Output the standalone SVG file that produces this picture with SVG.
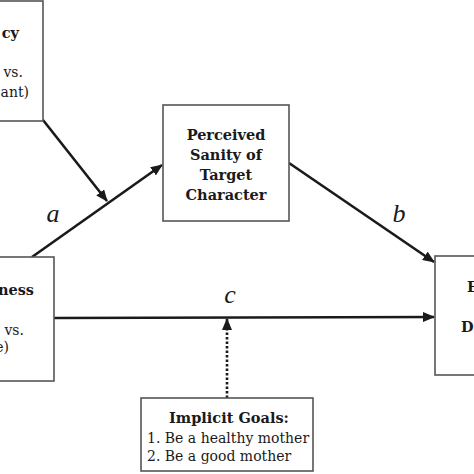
<svg xmlns="http://www.w3.org/2000/svg" width="474" height="474" viewBox="0 0 474 474">
<style>
.box{fill:#fff;stroke:#555;stroke-width:1.6}
.b{font-family:"DejaVu Serif","Liberation Serif",serif;font-weight:bold;font-size:14.5px;fill:#1a1a1a}
.r{font-family:"DejaVu Serif","Liberation Serif",serif;font-size:14px;fill:#1a1a1a}
.lab{font-family:"Liberation Serif",serif;font-style:italic;font-size:26px;fill:#1a1a1a}
.ln{stroke:#1a1a1a;stroke-width:2.6;fill:none}
</style>
<defs>
<marker id="ah" markerWidth="12" markerHeight="10" refX="11" refY="5" orient="auto" markerUnits="userSpaceOnUse">
<path d="M0,0 L12,5 L0,10 Z" fill="#1a1a1a"/>
</marker>
</defs>
<rect width="474" height="474" fill="#fff"/>
<g id="connectors">
<line class="ln" x1="32" y1="257" x2="162" y2="165" marker-end="url(#ah)"/>
<line class="ln" x1="43" y1="120" x2="107" y2="201" marker-end="url(#ah)"/>
<line class="ln" x1="289" y1="163" x2="434" y2="262" marker-end="url(#ah)"/>
<line class="ln" x1="54" y1="318" x2="434" y2="317" marker-end="url(#ah)"/>
<line class="ln" x1="227" y1="398" x2="227" y2="319" stroke-dasharray="2.5,2" marker-end="url(#ah)"/>
<text class="lab" x="53" y="222" text-anchor="middle">a</text>
<text class="lab" x="399" y="222" text-anchor="middle">b</text>
<text class="lab" x="230" y="303" text-anchor="middle">c</text>
</g>
<g id="node-topleft">
<rect class="box" x="-2" y="1" width="45" height="120"/>
<text class="b" x="19" y="38" text-anchor="end">cy</text>
<text class="r" x="23" y="77" text-anchor="end">vs.</text>
<text class="r" x="29" y="97" text-anchor="end">ant)</text>
</g>
<g id="node-sanity">
<rect class="box" x="163" y="105" width="126" height="116"/>
<text class="b" x="226" y="140" text-anchor="middle">Perceived</text>
<text class="b" x="226" y="160" text-anchor="middle">Sanity of</text>
<text class="b" x="226" y="180" text-anchor="middle">Target</text>
<text class="b" x="226" y="200" text-anchor="middle">Character</text>
</g>
<g id="node-left">
<rect class="box" x="-2" y="257" width="56" height="124"/>
<text class="b" x="34" y="295" text-anchor="end">ness</text>
<text class="r" x="24" y="335" text-anchor="end">vs.</text>
<text class="r" x="9" y="352" text-anchor="end">e)</text>
</g>
<g id="node-right">
<rect class="box" x="435" y="256" width="45" height="119"/>
<text class="b" x="467" y="292">E</text>
<text class="b" x="461" y="332">D</text>
</g>
<g id="node-goals">
<rect class="box" x="141" y="398" width="172" height="73"/>
<text class="b" x="229" y="423" text-anchor="middle">Implicit Goals:</text>
<text class="r" x="147" y="443">1. Be a healthy mother</text>
<text class="r" x="147" y="461">2. Be a good mother</text>
</g>
</svg>
